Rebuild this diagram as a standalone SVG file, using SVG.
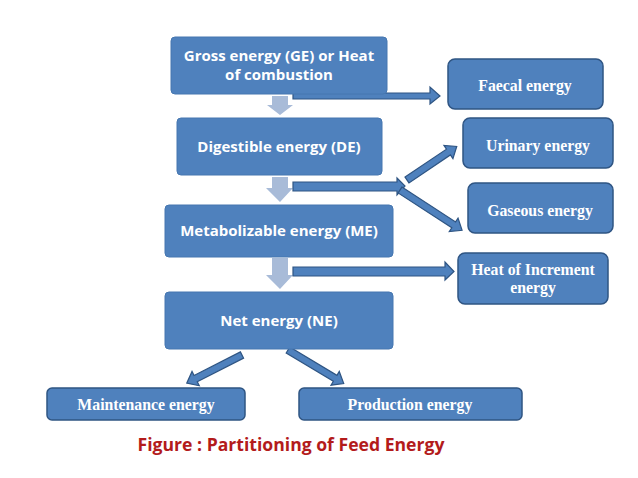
<svg xmlns="http://www.w3.org/2000/svg" width="638" height="478" viewBox="0 0 638 478">
<style>
.box{fill:#4f81bd;stroke:#4677b0;stroke-width:1}
.rbox{fill:#4f81bd;stroke:#2f5583;stroke-width:1.5}
.t{font-family:"Open Sans","Liberation Sans",sans-serif;font-weight:bold;fill:#fff;font-size:15px;text-anchor:middle}
.s{font-family:"Liberation Serif","Times New Roman",serif;font-weight:bold;fill:#fff;font-size:15.8px;text-anchor:middle}
.da{fill:#a8bbd8}
.ar{fill:#4f81bd;stroke:#2f5583;stroke-width:1.2;stroke-linejoin:miter}
.cap{font-family:"Open Sans","Liberation Sans",sans-serif;font-weight:bold;fill:#b31b1b;font-size:17.6px;text-anchor:middle}
</style>
<rect width="638" height="478" fill="#fff"/>
<g id="connectors">
<polygon class="da" points="272,96 288,96 288,105 293,105 280,115 267,105 272,105"/>
<polygon class="da" points="272,177 288,177 288,188 293,188 280,202 266,188 272,188"/>
<polygon class="da" points="272,258 288,258 288,275 293,275 280,289 266,275 272,275"/>
<polygon class="ar" points="293,93 430,93 430,87 440,96 430,104 430,99 293,99"/>
<polygon class="ar" points="293,182 397,182 397,178 405,186 397,195 397,191 293,191"/>
<polygon class="ar" points="293,267 445,267 445,262 454,271.5 445,280 445,276 293,276"/>
<g transform="translate(407,180) rotate(-34)"><polygon class="ar" points="0,-3.5 50,-3.5 50,-8 60,0 50,8 50,3.5 0,3.5"/></g>
<g transform="translate(400,190) rotate(33)"><polygon class="ar" points="0,-3.5 64,-3.5 64,-8 74,0 64,8 64,3.5 0,3.5"/></g>
<g transform="translate(242,355) rotate(153)"><polygon class="ar" points="0,-3.5 52,-3.5 52,-8 62,0 52,8 52,3.5 0,3.5"/></g>
<g transform="translate(288,350) rotate(31)"><polygon class="ar" points="0,-3.5 55,-3.5 55,-8 65,0 55,8 55,3.5 0,3.5"/></g>
</g>
<g id="ge"><rect class="box" x="171" y="37" width="216" height="57" rx="4"/><text class="t" x="279" y="61">Gross energy (GE) or Heat</text><text class="t" x="279" y="80">of combustion</text></g>
<g id="de"><rect class="box" x="177" y="118" width="205" height="57" rx="4"/><text class="t" x="279" y="152">Digestible energy (DE)</text></g>
<g id="me"><rect class="box" x="165" y="205" width="228" height="52" rx="4"/><text class="t" x="279" y="236">Metabolizable energy (ME)</text></g>
<g id="ne"><rect class="box" x="165" y="292" width="228" height="57" rx="4"/><text class="t" x="279" y="326">Net energy (NE)</text></g>
<g id="faecal"><rect class="rbox" x="448" y="59" width="155" height="50" rx="7"/><text class="s" x="525" y="91">Faecal energy</text></g>
<g id="urinary"><rect class="rbox" x="463" y="118" width="150" height="50" rx="7"/><text class="s" x="538" y="151">Urinary energy</text></g>
<g id="gaseous"><rect class="rbox" x="468" y="183" width="145" height="50" rx="7"/><text class="s" x="540" y="216">Gaseous energy</text></g>
<g id="hi"><rect class="rbox" x="458" y="253" width="150" height="51" rx="7"/><text class="s" x="533" y="275">Heat of Increment</text><text class="s" x="533" y="293">energy</text></g>
<g id="maint"><rect class="rbox" x="47" y="388" width="198" height="32" rx="5"/><text class="s" x="146" y="410">Maintenance energy</text></g>
<g id="prod"><rect class="rbox" x="299" y="388" width="223" height="32" rx="5"/><text class="s" x="410" y="410">Production energy</text></g>
<text class="cap" x="291" y="451">Figure : Partitioning of Feed Energy</text>
</svg>
